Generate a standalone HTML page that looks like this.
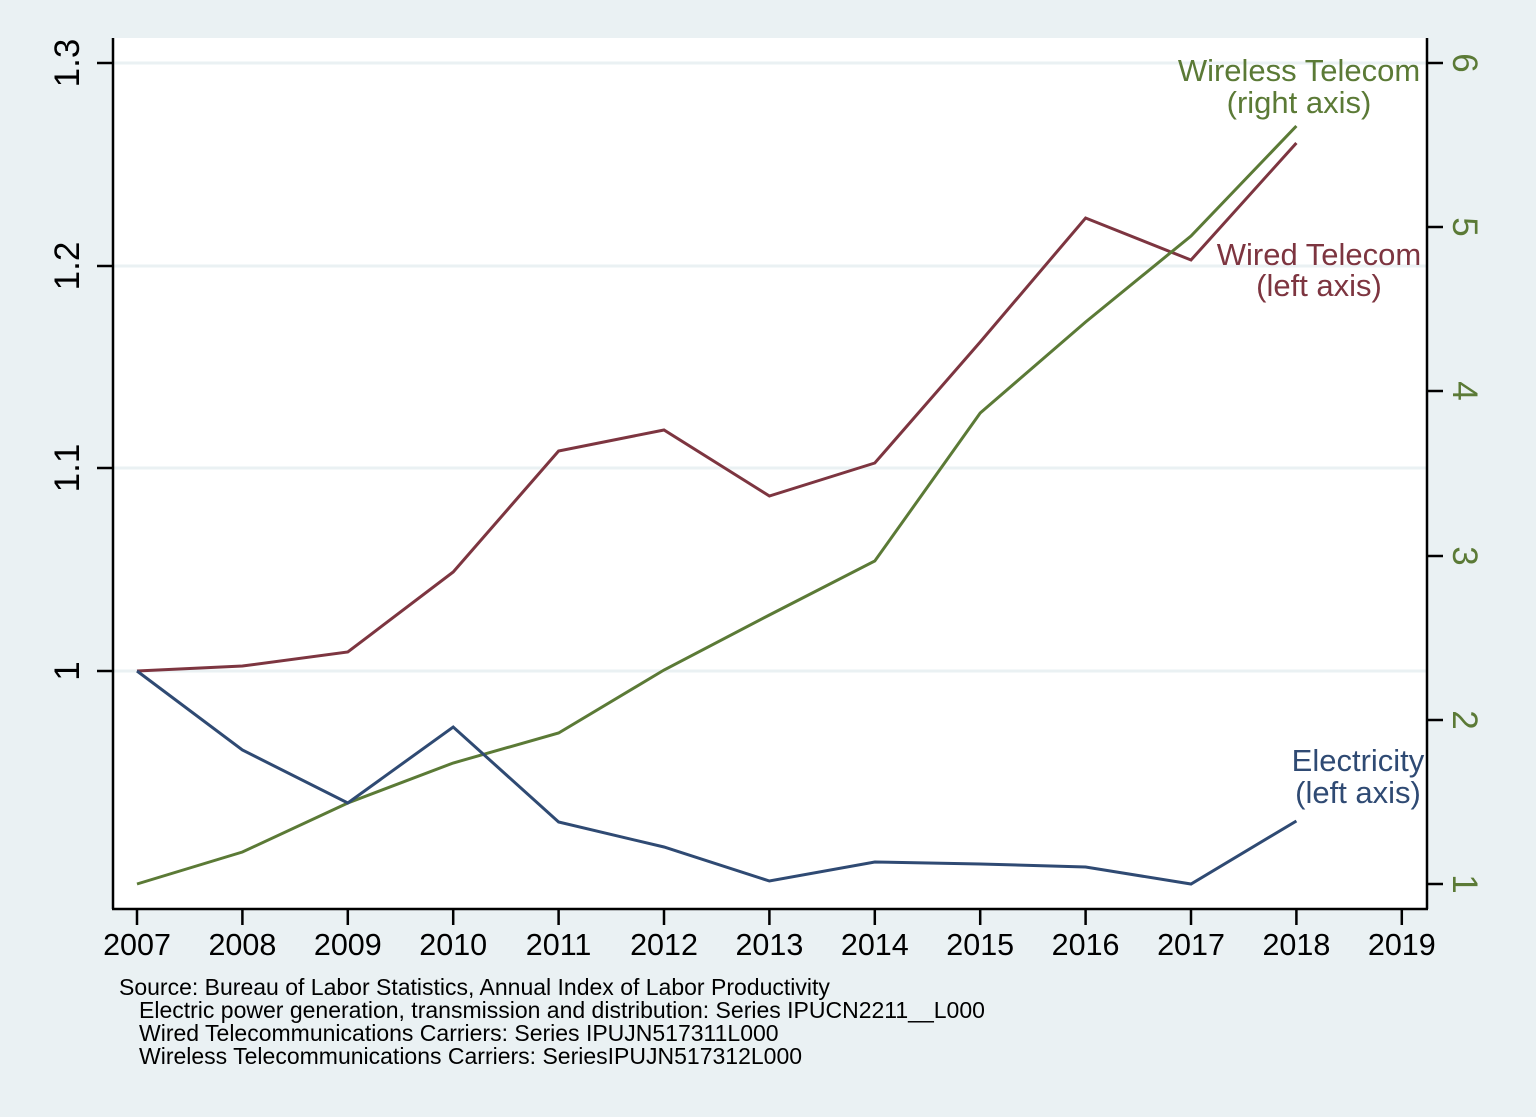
<!DOCTYPE html>
<html><head><meta charset="utf-8"><style>
html,body{margin:0;padding:0;background:#eaf1f3;}
svg{display:block;font-family:"Liberation Sans",sans-serif;}
</style></head><body>
<svg width="1536" height="1117" viewBox="0 0 1536 1117">
<rect width="1536" height="1117" fill="#eaf1f3"/>
<rect x="113" y="38" width="1314" height="871" fill="#fff"/>
<g stroke="#eaf1f3" stroke-width="3">
<line x1="113" x2="1427" y1="63" y2="63"/><line x1="113" x2="1427" y1="266" y2="266"/>
<line x1="113" x2="1427" y1="468" y2="468"/><line x1="113" x2="1427" y1="671" y2="671"/>
</g>
<g stroke="#000" stroke-width="2.5" fill="none">
<line x1="113" y1="38" x2="113" y2="909"/><line x1="1427" y1="38" x2="1427" y2="909"/>
<line x1="112" y1="909" x2="1428" y2="909"/>
<line x1="97" x2="113" y1="63" y2="63"/><line x1="97" x2="113" y1="266" y2="266"/>
<line x1="97" x2="113" y1="468" y2="468"/><line x1="97" x2="113" y1="671" y2="671"/>
<line x1="1427" x2="1443" y1="63" y2="63"/><line x1="1427" x2="1443" y1="227" y2="227"/>
<line x1="1427" x2="1443" y1="391" y2="391"/><line x1="1427" x2="1443" y1="556" y2="556"/>
<line x1="1427" x2="1443" y1="720" y2="720"/><line x1="1427" x2="1443" y1="884" y2="884"/>
<line x1="137" x2="137" y1="909" y2="925"/><line x1="242.4" x2="242.4" y1="909" y2="925"/>
<line x1="347.8" x2="347.8" y1="909" y2="925"/><line x1="453.2" x2="453.2" y1="909" y2="925"/>
<line x1="558.6" x2="558.6" y1="909" y2="925"/><line x1="664" x2="664" y1="909" y2="925"/>
<line x1="769.4" x2="769.4" y1="909" y2="925"/><line x1="874.8" x2="874.8" y1="909" y2="925"/>
<line x1="980.2" x2="980.2" y1="909" y2="925"/><line x1="1085.6" x2="1085.6" y1="909" y2="925"/>
<line x1="1191" x2="1191" y1="909" y2="925"/><line x1="1296.4" x2="1296.4" y1="909" y2="925"/>
<line x1="1401.8" x2="1401.8" y1="909" y2="925"/>
</g>
<g font-size="35" text-anchor="middle" fill="#000">
<text transform="translate(79,63) rotate(-90)">1.3</text>
<text transform="translate(79,266) rotate(-90)">1.2</text>
<text transform="translate(79,468) rotate(-90)">1.1</text>
<text transform="translate(79,671) rotate(-90)">1</text>
</g>
<g font-size="35" text-anchor="middle" fill="#5b7a36">
<text transform="translate(1453,63) rotate(90)">6</text>
<text transform="translate(1453,227) rotate(90)">5</text>
<text transform="translate(1453,391) rotate(90)">4</text>
<text transform="translate(1453,556) rotate(90)">3</text>
<text transform="translate(1453,720) rotate(90)">2</text>
<text transform="translate(1453,884) rotate(90)">1</text>
</g>
<g font-size="30.5" text-anchor="middle" fill="#000">
<text x="137" y="955">2007</text><text x="242.4" y="955">2008</text><text x="347.8" y="955">2009</text>
<text x="453.2" y="955">2010</text><text x="558.6" y="955">2011</text><text x="664" y="955">2012</text>
<text x="769.4" y="955">2013</text><text x="874.8" y="955">2014</text><text x="980.2" y="955">2015</text>
<text x="1085.6" y="955">2016</text><text x="1191" y="955">2017</text><text x="1296.4" y="955">2018</text>
<text x="1401.8" y="955">2019</text>
</g>
<g fill="none" stroke-width="3" stroke-linejoin="miter">
<polyline stroke="#7d3540" points="137,671 242.4,666 347.8,652 453.2,572 558.6,451 664,430 769.4,496 874.8,463 980.2,342 1085.6,218 1191,260 1296.4,143"/>
<polyline stroke="#5b7a36" points="137,884 242.4,852 347.8,803 453.2,763 558.6,733 664,670 769.4,615 874.8,561 980.2,413 1085.6,322 1191,236 1296.4,126"/>
<polyline stroke="#2f4a73" points="137,671 242.4,750 347.8,803 453.2,727 558.6,822 664,847 769.4,881 874.8,862 980.2,864 1085.6,867 1191,884 1296.4,821"/>
</g>
<g font-size="31" text-anchor="middle">
<text x="1299" y="81" fill="#5b7a36">Wireless Telecom</text>
<text x="1299" y="113" fill="#5b7a36">(right axis)</text>
<text x="1319" y="265" fill="#7d3540">Wired Telecom</text>
<text x="1319" y="296" fill="#7d3540">(left axis)</text>
<text x="1358" y="771" fill="#2f4a73">Electricity</text>
<text x="1358" y="803" fill="#2f4a73">(left axis)</text>
</g>
<g font-size="23" fill="#000">
<text x="119" y="995">Source: Bureau of Labor Statistics, Annual Index of Labor Productivity</text>
<text x="139" y="1018">Electric power generation, transmission and distribution: Series IPUCN2211__L000</text>
<text x="139" y="1041">Wired Telecommunications Carriers: Series IPUJN517311L000</text>
<text x="139" y="1064">Wireless Telecommunications Carriers: SeriesIPUJN517312L000</text>
</g>
</svg>
</body></html>
